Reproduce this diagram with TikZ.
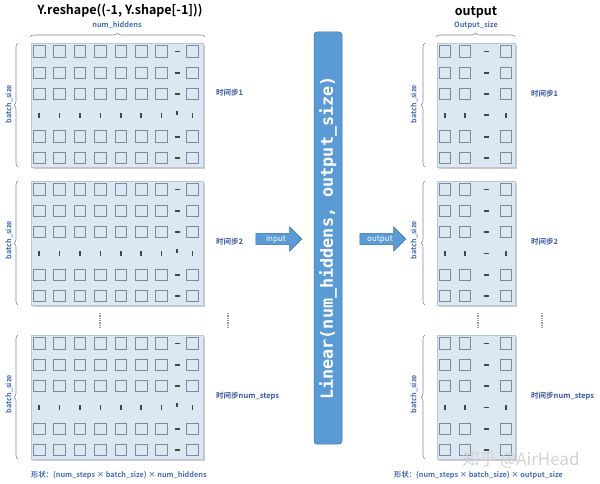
\documentclass[tikz,border=0pt]{standalone}
\usepackage{fontspec}
\setmainfont{Noto Sans CJK SC}[BoldFont={Noto Sans CJK SC Bold}]
\newfontfamily\barfont{DejaVu Sans Mono}
\usetikzlibrary{shapes.arrows,shadows,decorations.pathreplacing}
\definecolor{blkfill}{RGB}{221,231,242}
\definecolor{blkedge}{RGB}{185,199,218}
\definecolor{cellgray}{RGB}{125,138,158}
\definecolor{labelblue}{RGB}{68,108,182}
\definecolor{stepblue}{RGB}{58,88,160}
\definecolor{barblue}{RGB}{91,155,213}
\definecolor{baredge}{RGB}{65,113,160}
\definecolor{dashgray}{RGB}{70,70,70}
\definecolor{bracecol}{RGB}{120,140,175}
\newcommand\mkleft[2]{%
  \node[blk, minimum width=172pt] (#1) at (117,#2+62) {};
  \foreach \r in {0,1,2,4,5}{
    \foreach \c/\x in {1/39.2,2/59.6,3/80,4/100.4,5/120.8,6/141.2,7/161.6,9/192.5}{
      \node[cellbox] (#1-\r-\c) at (\x,#2+8.5+21.3*\r) {};
    }
    \node[dashbar] (#1-\r-8) at (177,#2+8.5+21.3*\r) {};
  }
  \foreach \c/\x in {1/39.2,2/59.6,3/80,4/100.4,5/120.8,6/141.2,7/161.6,9/192.5}{
    \node[tickbar] (#1-3-\c) at (\x,#2+8.5+21.3*3) {};
  }
  \node[tickbar] (#1-3-8) at (177,#2+6+21.3*3) {};
}
\newcommand\mkright[2]{%
  \node[blk, minimum width=78pt] (#1) at (476,#2+62) {};
  \foreach \r in {0,1,2,4,5}{
    \foreach \c/\x in {1/445,2/465,4/506}{
      \node[cellbox] (#1-\r-\c) at (\x,#2+8.5+21.3*\r) {};
    }
    \node[dashbar] (#1-\r-3) at (486,#2+8.5+21.3*\r) {};
  }
  \foreach \c/\x in {1/445,2/465,4/506}{
    \node[tickbar] (#1-3-\c) at (\x,#2+8.5+21.3*3) {};
  }
  \node[dashbar] (#1-3-3) at (486,#2+8.5+21.3*3) {};
}
\begin{document}
\begin{tikzpicture}[x=1pt,y=-1pt,
  blk/.style={draw=blkedge, fill=blkfill, line width=0.6pt, minimum height=124pt, inner sep=0pt,
    drop shadow={shadow xshift=1.6pt, shadow yshift=-1.6pt, opacity=0.35, fill=black!60}},
  cellbox/.style={draw=cellgray, line width=0.9pt, fill=blkfill, minimum size=11.5pt, inner sep=0pt},
  dashbar/.style={fill=dashgray, minimum width=5pt, minimum height=1.8pt, inner sep=0pt},
  tickbar/.style={fill=dashgray, minimum width=1.5pt, minimum height=4.5pt, inner sep=0pt},
  lbl/.style={text=labelblue, font=\bfseries\fontsize{7.3}{8}\selectfont, inner sep=0pt},
  steplbl/.style={text=stepblue, font=\bfseries\fontsize{7.5}{8}\selectfont, inner sep=0pt, anchor=west},
  ttl/.style={text=black, font=\bfseries\fontsize{12.5}{14}\selectfont, inner sep=0pt},
  bracedraw/.style={decorate, decoration={brace, amplitude=4pt}, draw=bracecol, line width=0.6pt},
  vd/.style={draw=gray!80, line width=1.1pt, dash pattern=on 0.7pt off 1pt},
  arrowbox/.style={shape=single arrow, draw=baredge, fill=barblue, line width=0.5pt,
    text=white, font=\fontsize{8}{8}\selectfont, text height=5.5pt, text depth=1.5pt,
    inner xsep=1pt, inner ysep=1.8pt, minimum height=46pt, single arrow head extend=6.5pt,
    single arrow tip angle=90},
  barbox/.style={draw=baredge, fill=barblue, line width=0.5pt, rounded corners=3pt,
    text=white, font=\barfont\bfseries\fontsize{16.8}{18}\selectfont, inner sep=0pt}
]
\useasboundingbox (0,0) rectangle (600,484);
% titles
\node[ttl] (t1) at (120,11) {Y.reshape((-1, Y.shape[-1]))};
\node[ttl] (t2) at (476,12) {output};
\node[lbl] (nh) at (117,25) {num\_hiddens};
\node[lbl] (os) at (476,25) {Output\_size};
% top braces
\coordinate (tb1a) at (30,37); \coordinate (tb1b) at (205,37);
\coordinate (tb2a) at (436,37); \coordinate (tb2b) at (515,37);
\draw[bracedraw] (tb1a) -- (tb1b);
\draw[bracedraw] (tb2a) -- (tb2b);
% blocks
\mkleft{L1}{43}
\mkleft{L2}{181}
\mkleft{L3}{335}
\mkright{R1}{43}
\mkright{R2}{181}
\mkright{R3}{335}
% side braces
\foreach \n/\t in {1/43,2/181,3/335}{
  \coordinate (lb\n a) at (18,\t+124); \coordinate (lb\n b) at (18,\t);
  \coordinate (rb\n a) at (425,\t+124); \coordinate (rb\n b) at (425,\t);
  \draw[bracedraw] (lb\n a) -- (lb\n b);
  \draw[bracedraw] (rb\n a) -- (rb\n b);
}
\node[lbl, rotate=90] (bs1) at (9,104) {batch\_size};
\node[lbl, rotate=90] (bs2) at (9,240) {batch\_size};
\node[lbl, rotate=90] (bs3) at (9,394) {batch\_size};
\node[lbl, rotate=90] (bs4) at (414,104) {batch\_size};
\node[lbl, rotate=90] (bs5) at (414,240) {batch\_size};
\node[lbl, rotate=90] (bs6) at (414,394) {batch\_size};
% step labels
\node[steplbl] (s1) at (216,93) {时间步1};
\node[steplbl] (s2) at (216,242) {时间步2};
\node[steplbl] (s3) at (216,396) {时间步num\_steps};
\node[steplbl] (s4) at (531,94) {时间步1};
\node[steplbl] (s5) at (531,242) {时间步2};
\node[steplbl] (s6) at (531,396) {时间步num\_steps};
% vertical dots
\foreach \n/\x in {1/100,2/228,3/478,4/542}{
  \coordinate (vd\n a) at (\x,313); \coordinate (vd\n b) at (\x,327);
  \draw[vd] (vd\n a) -- (vd\n b);
}
% bottom shape labels
\node[lbl, anchor=west] (sh1) at (31,475) {形状：(num\_steps × batch\_size) × num\_hiddens};
\node[lbl, anchor=west] (sh2) at (394,475) {形状：(num\_steps × batch\_size) × output\_size};
% middle
\node[barbox, rotate=90, minimum width=412pt, minimum height=28pt] (lin) at (328,238) {Linear(num\_hiddens, output\_size)};
\node[arrowbox] (ina) at (276,239) {input};
\node[arrowbox] (outa) at (380,239) {output};
% watermark
\node[text=gray!35, font=\fontsize{17}{18}\selectfont, inner sep=0pt] (wm) at (521,460) {知乎 @AirHead};
\end{tikzpicture}
\end{document}
